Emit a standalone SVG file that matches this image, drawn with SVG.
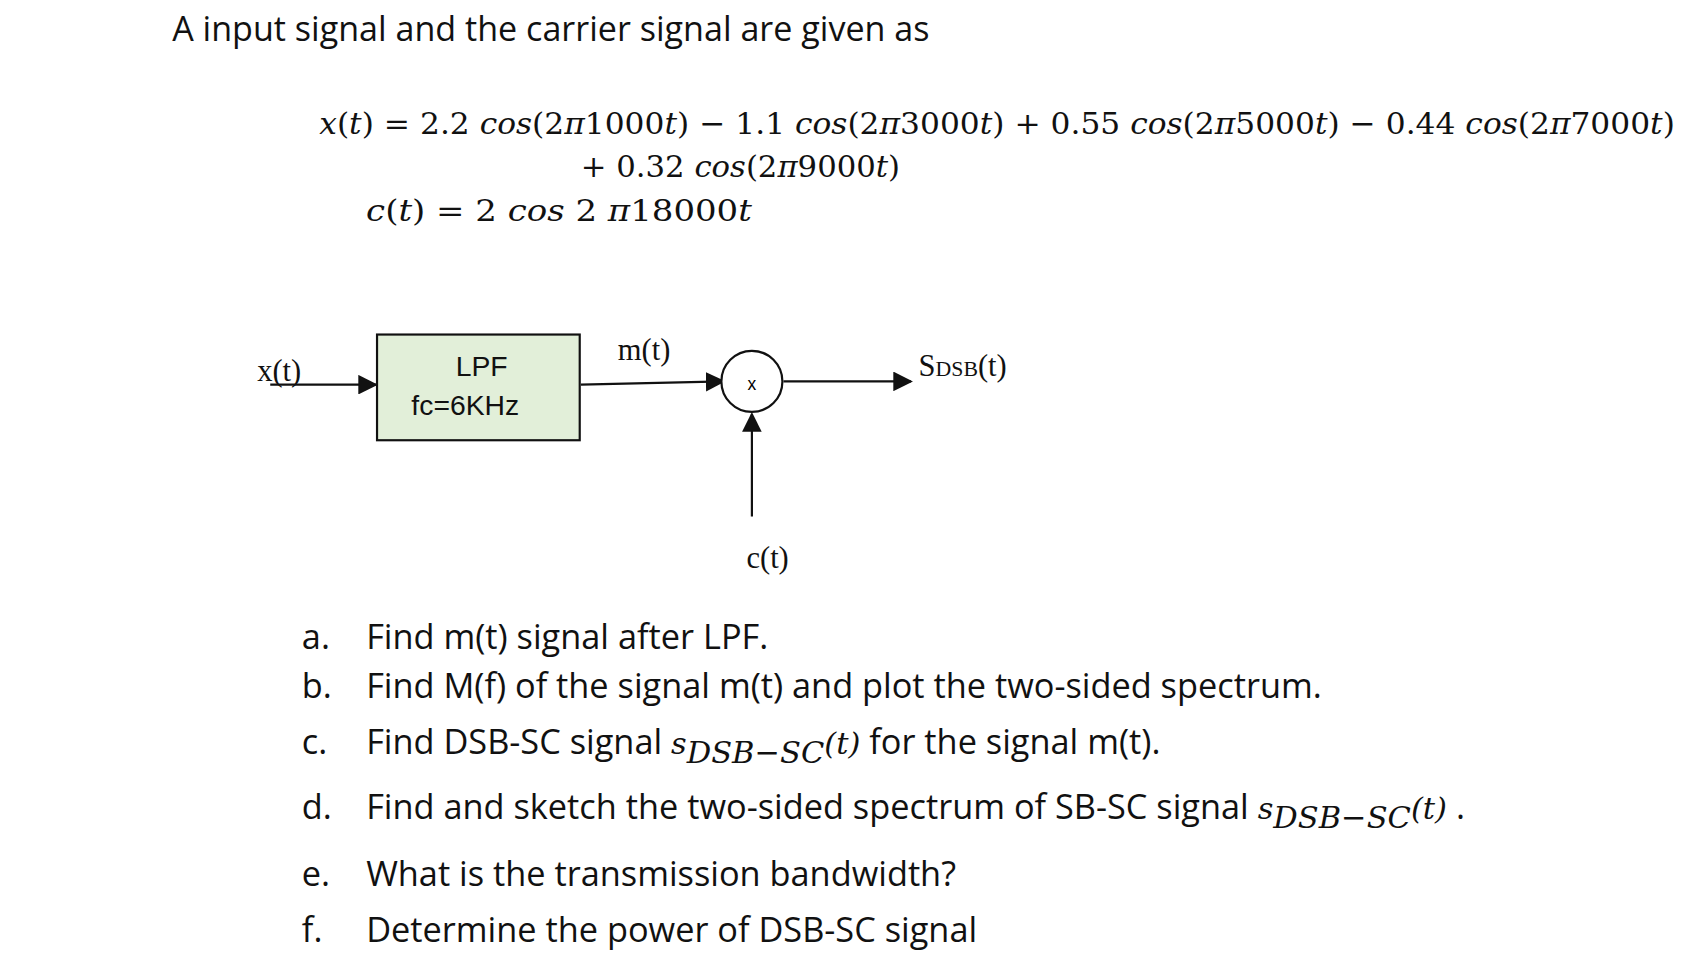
<svg xmlns="http://www.w3.org/2000/svg" width="1700" height="956" viewBox="0 0 1700 956">
<defs>
<style>
.t{font-family:"Open Sans","Liberation Sans",sans-serif;font-size:31.5px;fill:#111}
.m{font-family:"DejaVu Serif","Liberation Serif",serif;font-size:28px;fill:#111}
.s{font-family:"Liberation Serif",serif;font-size:28px;fill:#111}
.b{font-family:"Liberation Sans",sans-serif;font-size:26px;fill:#111}
.ln{stroke:#111;stroke-width:2;fill:none}
</style>
<marker id="ar2" viewBox="0 0 10 10" refX="9" refY="5" markerWidth="18" markerHeight="18" markerUnits="userSpaceOnUse" orient="auto"><path d="M0,0L10,5L0,10z" fill="#111"/></marker>
</defs>
<rect width="1700" height="956" fill="#fff"/>
<g transform="scale(1.0897)">
<text class="t" x="158" y="38" textLength="695" lengthAdjust="spacingAndGlyphs">A input signal and the carrier signal are given as</text>
<text class="m" x="293" y="123" textLength="1244" lengthAdjust="spacingAndGlyphs"><tspan font-style="italic">x</tspan>(<tspan font-style="italic">t</tspan>) = 2.2 <tspan font-style="italic">cos</tspan>(2<tspan font-style="italic">π</tspan>1000<tspan font-style="italic">t</tspan>) − 1.1 <tspan font-style="italic">cos</tspan>(2<tspan font-style="italic">π</tspan>3000<tspan font-style="italic">t</tspan>) + 0.55 <tspan font-style="italic">cos</tspan>(2<tspan font-style="italic">π</tspan>5000<tspan font-style="italic">t</tspan>) − 0.44 <tspan font-style="italic">cos</tspan>(2<tspan font-style="italic">π</tspan>7000<tspan font-style="italic">t</tspan>)</text>
<text class="m" x="533" y="162" textLength="293" lengthAdjust="spacingAndGlyphs">+ 0.32 <tspan font-style="italic">cos</tspan>(2<tspan font-style="italic">π</tspan>9000<tspan font-style="italic">t</tspan>)</text>
<text class="m" x="336" y="203" font-size="31" textLength="354" lengthAdjust="spacingAndGlyphs"><tspan font-style="italic">c</tspan>(<tspan font-style="italic">t</tspan>) = 2 <tspan font-style="italic">cos</tspan> 2 <tspan font-style="italic">π</tspan>18000<tspan font-style="italic">t</tspan></text>
<g id="connectors">
<line class="ln" x1="248" y1="353" x2="345" y2="353" marker-end="url(#ar2)"/>
<line class="ln" x1="533" y1="353" x2="664" y2="350" marker-end="url(#ar2)"/>
<line class="ln" x1="719" y1="350" x2="836" y2="350" marker-end="url(#ar2)"/>
<line class="ln" x1="690" y1="474" x2="690" y2="380" marker-end="url(#ar2)"/>
</g>
<g id="lpf"><rect x="346" y="307" width="186" height="97" fill="#e2efd9" stroke="#111" stroke-width="2"/>
<text class="b" x="442" y="345" text-anchor="middle">LPF</text>
<text class="b" x="427" y="381" text-anchor="middle">fc=6KHz</text></g>
<g id="mult"><circle cx="690" cy="350" r="28" fill="#fff" stroke="#111" stroke-width="2"/>
<text x="690" y="358" text-anchor="middle" font-family="Liberation Sans,sans-serif" font-size="16">x</text></g>
<text class="s" x="236" y="350">x(t)</text>
<text class="s" x="567" y="330">m(t)</text>
<text class="s" x="843" y="345">S<tspan font-size="20">DSB</tspan>(t)</text>
<text class="s" x="685" y="521">c(t)</text>
<g class="t">
<text x="277" y="596">a.</text><text x="336" y="596">Find m(t) signal after LPF.</text>
<text x="277" y="641">b.</text><text x="336" y="641">Find M(f) of the signal m(t) and plot the two-sided spectrum.</text>
<text x="277" y="692">c.</text><text x="336" y="692">Find DSB-SC signal <tspan class="m" font-style="italic" font-size="30">s</tspan><tspan class="m" font-style="italic" font-size="20" dy="8">DSB−SC</tspan><tspan class="m" font-style="italic" font-size="32" dy="-8">(t)</tspan> for the signal m(t).</text>
<text x="277" y="752">d.</text><text x="336" y="752">Find and sketch the two-sided spectrum of SB-SC signal <tspan class="m" font-style="italic" font-size="30">s</tspan><tspan class="m" font-style="italic" font-size="20" dy="8">DSB−SC</tspan><tspan class="m" font-style="italic" font-size="32" dy="-8">(t)</tspan> .</text>
<text x="277" y="813">e.</text><text x="336" y="813">What is the transmission bandwidth?</text>
<text x="277" y="864">f.</text><text x="336" y="864">Determine the power of DSB-SC signal</text>
</g>
</g>
</svg>
